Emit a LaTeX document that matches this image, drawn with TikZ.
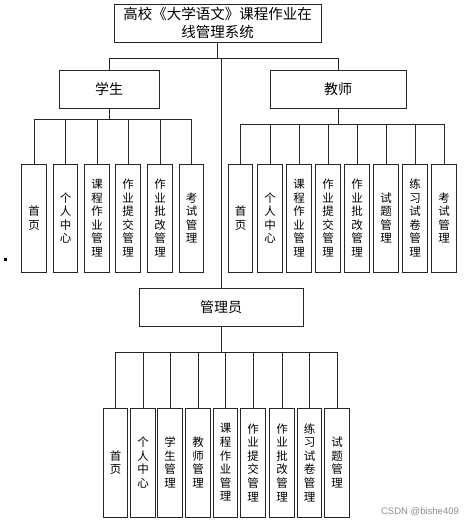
\documentclass[tikz,border=0pt]{standalone}
\usepackage{fontspec}
\setmainfont{Noto Sans CJK SC}
\newfontfamily\wmfont{Liberation Sans}
\tikzset{
  box/.style={draw=black!85, line width=0.9pt, inner sep=0pt, align=center},
  leaf/.style={box, minimum width=24.5pt, minimum height=108pt, font=\fontsize{11.5}{13.6}\selectfont},
  mid/.style={box, minimum height=38pt, font=\fontsize{14}{18}\selectfont},
  conn/.style={draw=black!85, line width=0.9pt}
}
\begin{document}
\begin{tikzpicture}[x=1pt,y=-1pt]
\useasboundingbox (0,0) rectangle (474,524);
% root
\node[mid, minimum width=207pt, font=\fontsize{14.5}{18}\selectfont] (root) at (217.5,23) {高校《大学语文》课程作业在\\线管理系统};
\node[mid, minimum width=100pt] (stu) at (109,89) {学生};
\node[mid, minimum width=136pt] (tea) at (338,89) {教师};
\node[mid, minimum width=164pt] (adm) at (221,307) {管理员};
% bus coordinates
\coordinate (busT) at (0,58);
\coordinate (busS) at (0,119);
\coordinate (busE) at (0,124);
\coordinate (busA) at (0,352);
% student leaves
\node[leaf] (s1) at (34,218) {首\\页};
\node[leaf] (s2) at (65.5,218) {个\\人\\中\\心};
\node[leaf] (s3) at (97,218) {课\\程\\作\\业\\管\\理};
\node[leaf] (s4) at (128,218) {作\\业\\提\\交\\管\\理};
\node[leaf] (s5) at (160,218) {作\\业\\批\\改\\管\\理};
\node[leaf] (s6) at (191.5,218) {考\\试\\管\\理};
% teacher leaves
\node[leaf] (t1) at (240.5,218) {首\\页};
\node[leaf] (t2) at (270,218) {个\\人\\中\\心};
\node[leaf] (t3) at (299,218) {课\\程\\作\\业\\管\\理};
\node[leaf] (t4) at (328,218) {作\\业\\提\\交\\管\\理};
\node[leaf] (t5) at (357,218) {作\\业\\批\\改\\管\\理};
\node[leaf] (t6) at (386,218) {试\\题\\管\\理};
\node[leaf] (t7) at (415,218) {练\\习\\试\\卷\\管\\理};
\node[leaf] (t8) at (444,218) {考\\试\\管\\理};
% admin leaves
\node[leaf, minimum height=109pt] (a1) at (115.5,462.5) {首\\页};
\node[leaf, minimum height=109pt] (a2) at (143,462.5) {个\\人\\中\\心};
\node[leaf, minimum height=109pt] (a3) at (170,462.5) {学\\生\\管\\理};
\node[leaf, minimum height=109pt] (a4) at (198,462.5) {教\\师\\管\\理};
\node[leaf, minimum height=109pt] (a5) at (225.5,462.5) {课\\程\\作\\业\\管\\理};
\node[leaf, minimum height=109pt] (a6) at (253,462.5) {作\\业\\提\\交\\管\\理};
\node[leaf, minimum height=109pt] (a7) at (282,462.5) {作\\业\\批\\改\\管\\理};
\node[leaf, minimum height=109pt] (a8) at (309.5,462.5) {练\\习\\试\\卷\\管\\理};
\node[leaf, minimum height=109pt] (a9) at (337,462.5) {试\\题\\管\\理};
% top connectors
\draw[conn] (root.south) -- (root.south |- busT);
\draw[conn] (stu.north) -- (stu.north |- busT) -- (tea.north |- busT) -- (tea.north);
\draw[conn] (adm.north) -- (adm.north |- busT);
% student connectors
\draw[conn] (stu.south) -- (stu.south |- busS);
\foreach \n in {s1,s2,s3,s4,s5,s6} \draw[conn] (stu.south |- busS) -| (\n.north);
% teacher connectors
\draw[conn] (tea.south) -- (tea.south |- busE);
\foreach \n in {t1,t2,t3,t4,t5,t6,t7,t8} \draw[conn] (tea.south |- busE) -| (\n.north);
% admin connectors
\draw[conn] (adm.south) -- (adm.south |- busA);
\foreach \n in {a1,a2,a3,a4,a5,a6,a7,a8,a9} \draw[conn] (adm.south |- busA) -| (\n.north);
% small mark
\fill[black] (3.5,257.5) rectangle (6.5,260.5);
% watermark
\node[text=black!45, font=\wmfont\fontsize{9.5}{11}\selectfont, inner sep=0pt] (wm) at (420,512) {CSDN @bishe409};
\end{tikzpicture}
\end{document}
